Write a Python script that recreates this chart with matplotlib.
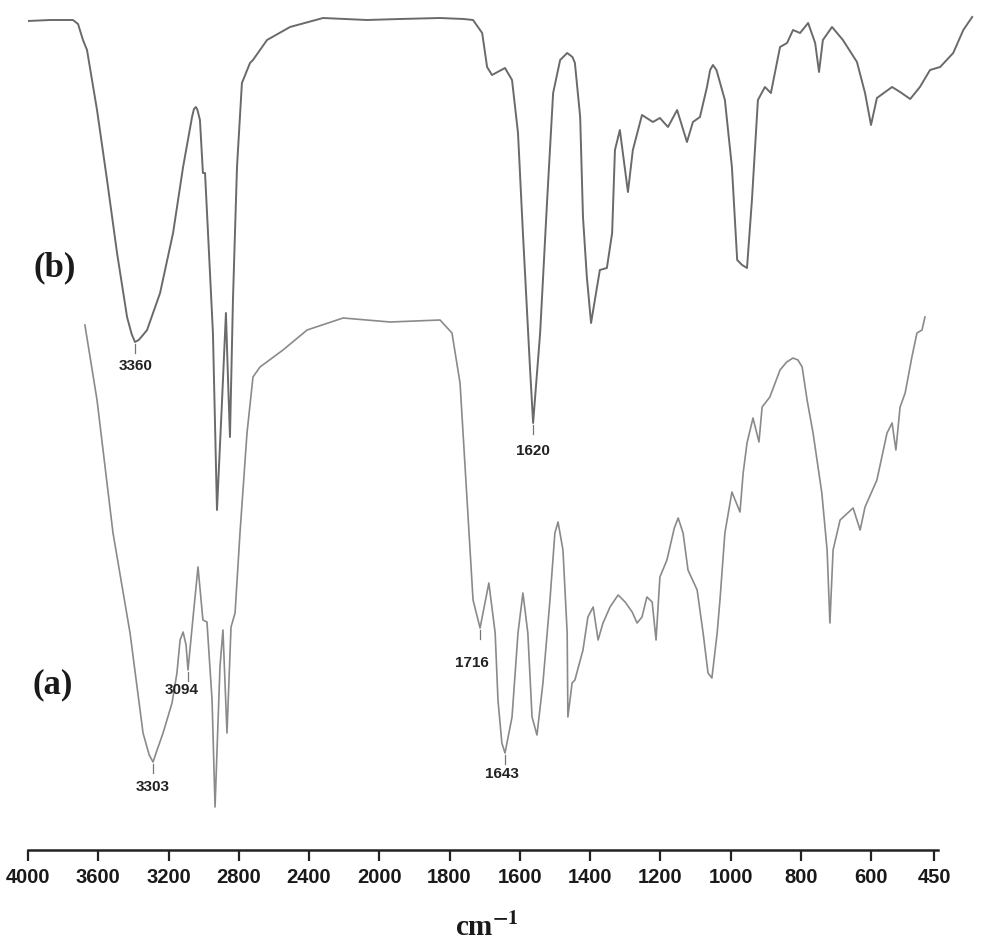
import numpy as np
import matplotlib
matplotlib.use("Agg")
import matplotlib.pyplot as plt

# FT-IR spectra, (a) lower trace, (b) upper trace
# wavenumber (cm-1) and transmittance in arbitrary units

wn_b = [4000, 3875, 3744, 3715, 3687, 3664, 3607, 3550, 3493, 3436, 3410, 3391,
        3370, 3350, 3322, 3248, 3174, 3117, 3066, 3055, 3044, 3035, 3021, 3004,
        2992, 2975, 2947, 2924, 2895, 2873, 2861, 2850, 2833, 2821, 2810, 2782,
        2736, 2719, 2639, 2508, 2320, 2070, 1941, 1827, 1760, 1733, 1707, 1693,
        1679, 1642, 1622, 1605, 1591, 1571, 1562, 1542, 1522, 1505, 1485, 1465,
        1450, 1443, 1428, 1420, 1409, 1397, 1372, 1352, 1337, 1329, 1315, 1292,
        1278, 1252, 1221, 1201, 1178, 1152, 1124, 1107, 1087, 1067, 1058, 1050,
        1040, 1016, 996, 981, 967, 953, 939, 922, 902, 885, 859, 839, 822, 802,
        779, 759, 748, 737, 711, 680, 640, 617, 600, 586, 550, 531, 507, 484,
        460, 436, 405, 381, 360]
t_b = [829, 830, 830, 826, 810, 800, 740, 670, 597, 533, 516, 508,
       510, 514, 520, 557, 617, 683, 733, 741, 743, 740, 730, 677,
       677, 617, 517, 340, 450, 537, 470, 413, 550, 620, 683, 767,
       787, 790, 810, 823, 832, 830, 831, 832, 831, 830, 817, 783,
       775, 782, 770, 717, 617, 483, 427, 517, 650, 757, 790, 797,
       793, 787, 733, 633, 573, 527, 580, 582, 617, 700, 720, 658,
       700, 735, 728, 732, 723, 740, 708, 728, 733, 763, 780, 785,
       780, 750, 683, 590, 585, 582, 650, 750, 763, 757, 803, 807, 820, 817,
       827, 807, 778, 810, 823, 810, 788, 757, 725, 752, 763, 758, 751, 763,
       780, 783, 797, 820, 833]

wn_a = [3676, 3607, 3516, 3419, 3345, 3310, 3288, 3265, 3231, 3180, 3152, 3134,
        3117, 3100, 3089, 3060, 3032, 3004, 2981, 2952, 2935, 2907, 2890, 2867,
        2844, 2821, 2793, 2753, 2719, 2679, 2548, 2411, 2206, 1969, 1827, 1793,
        1770, 1750, 1733, 1713, 1688, 1670, 1662, 1651, 1642, 1622, 1605, 1591,
        1577, 1565, 1551, 1534, 1514, 1500, 1491, 1477, 1465, 1463, 1451, 1443,
        1420, 1406, 1391, 1377, 1363, 1343, 1320, 1300, 1280, 1266, 1252, 1238,
        1223, 1212, 1201, 1181, 1160, 1149, 1135, 1121, 1095, 1078, 1064, 1053,
        1038, 1030, 1016, 996, 973, 964, 953, 936, 919, 910, 888, 859, 840, 822,
        808, 796, 782, 765, 740, 725, 717, 708, 688, 651, 631, 617, 586, 562,
        550, 541, 531, 519, 503, 491, 479, 472]
t_a = [525, 450, 317, 217, 117, 95, 88, 100, 117, 147, 177, 210,
       218, 205, 180, 233, 283, 230, 228, 150, 43, 183, 220, 117,
       223, 237, 317, 417, 473, 483, 500, 520, 532, 528, 530, 517,
       467, 350, 250, 222, 267, 217, 150, 107, 97, 133, 217, 257,
       217, 133, 115, 167, 250, 317, 328, 300, 217, 133, 167, 170,
       200, 233, 243, 210, 227, 243, 255, 248, 238, 227, 233, 253,
       248, 210, 273, 290, 322, 332, 317, 280, 260, 217, 177, 172,
       217, 250, 317, 358, 338, 377, 407, 432, 408, 443, 453, 480, 488, 492,
       490, 483, 450, 417, 357, 300, 227, 300, 330, 342, 320, 343, 370, 417,
       427, 400, 443, 457, 493, 517, 520, 533]

tick_wn = [4000, 3600, 3200, 2800, 2400, 2000, 1800, 1600, 1400, 1200, 1000, 800, 600, 450]
tick_idx = [0, 1, 2, 3, 4, 5, 6, 7, 8, 9, 10, 11, 12, 12.9]

# (text, peak wavenumber, peak value, label wavenumber, label value)
peaks = [("3360", 3391, 508, 3385, 484),
         ("3303", 3288, 88, 3288, 63),
         ("3094", 3089, 180, 3123, 160),
         ("1716", 1713, 222, 1736, 187),
         ("1643", 1642, 97, 1651, 76),
         ("1620", 1562, 427, 1562, 399)]


# the instrument chart changes scale at 2000 cm-1 (and again near 600)
def wn_to_idx(w):
    w = np.asarray(w, dtype=float)
    out = np.interp(w, tick_wn[::-1], tick_idx[::-1])
    out = np.where(w < 450, 12.9 + (450 - w) * 0.9 / 150, out)
    out = np.where(w > 4000, (4000 - w) / 400, out)
    return out


def idx_to_wn(i):
    i = np.asarray(i, dtype=float)
    out = np.interp(i, tick_idx, tick_wn)
    out = np.where(i > 12.9, 450 - (i - 12.9) * 150 / 0.9, out)
    out = np.where(i < 0, 4000 - i * 400, out)
    return out


def forward(w):
    return -wn_to_idx(w)


def inverse(s):
    return idx_to_wn(-np.asarray(s, dtype=float))


plt.rcParams['mathtext.fontset'] = 'stix'

fig = plt.figure(figsize=(9.87, 9.52), dpi=100)
ax = fig.add_axes([28 / 987, 102 / 952, 952.6 / 987, 850 / 952])
ax.set_xscale('function', functions=(forward, inverse))
ax.set_xlim(4000, 340)
ax.set_ylim(0, 850)

ax.plot(wn_b, t_b, color='#6a6a6a', lw=1.4, solid_joinstyle='round')
ax.plot(wn_a, t_a, color='#8a8a8a', lw=1.2, solid_joinstyle='round')

for txt, pw, py, lw_, ly in peaks:
    ax.plot([pw, pw], [py - 2, py - 11], color='#777777', lw=0.9)
    ax.text(lw_, ly, txt, ha='center', va='center', fontsize=11,
            fontweight='bold', family='Liberation Sans', color='#222222')

ax.text(3846, 582, '(b)', ha='center', va='center', fontsize=25,
        fontweight='bold', family='Liberation Serif', color='#1a1a1a')
ax.text(3858, 165, '(a)', ha='center', va='center', fontsize=25,
        fontweight='bold', family='Liberation Serif', color='#1a1a1a')

for s in ['top', 'right', 'left']:
    ax.spines[s].set_visible(False)
ax.spines['bottom'].set_bounds(4000, 440)
ax.spines['bottom'].set_linewidth(1.8)
ax.spines['bottom'].set_color('#222222')
ax.set_yticks([])
ax.set_xticks(tick_wn)
ax.set_xticklabels([str(t) for t in tick_wn])
ax.minorticks_off()
ax.tick_params(axis='x', direction='out', length=8, width=1.6, color='#222222',
               pad=5, labelsize=14.5)
for lab in ax.get_xticklabels():
    lab.set_fontweight('bold')
    lab.set_family('Liberation Sans')
    lab.set_color('#1a1a1a')

fig.text(487 / 987, 1 - 928 / 952, r'cm$^{\mathbf{-1}}$', ha='center', va='center',
         fontsize=21, fontweight='bold', family='Liberation Serif', color='#1a1a1a')

fig.savefig('out.png', dpi=100)
